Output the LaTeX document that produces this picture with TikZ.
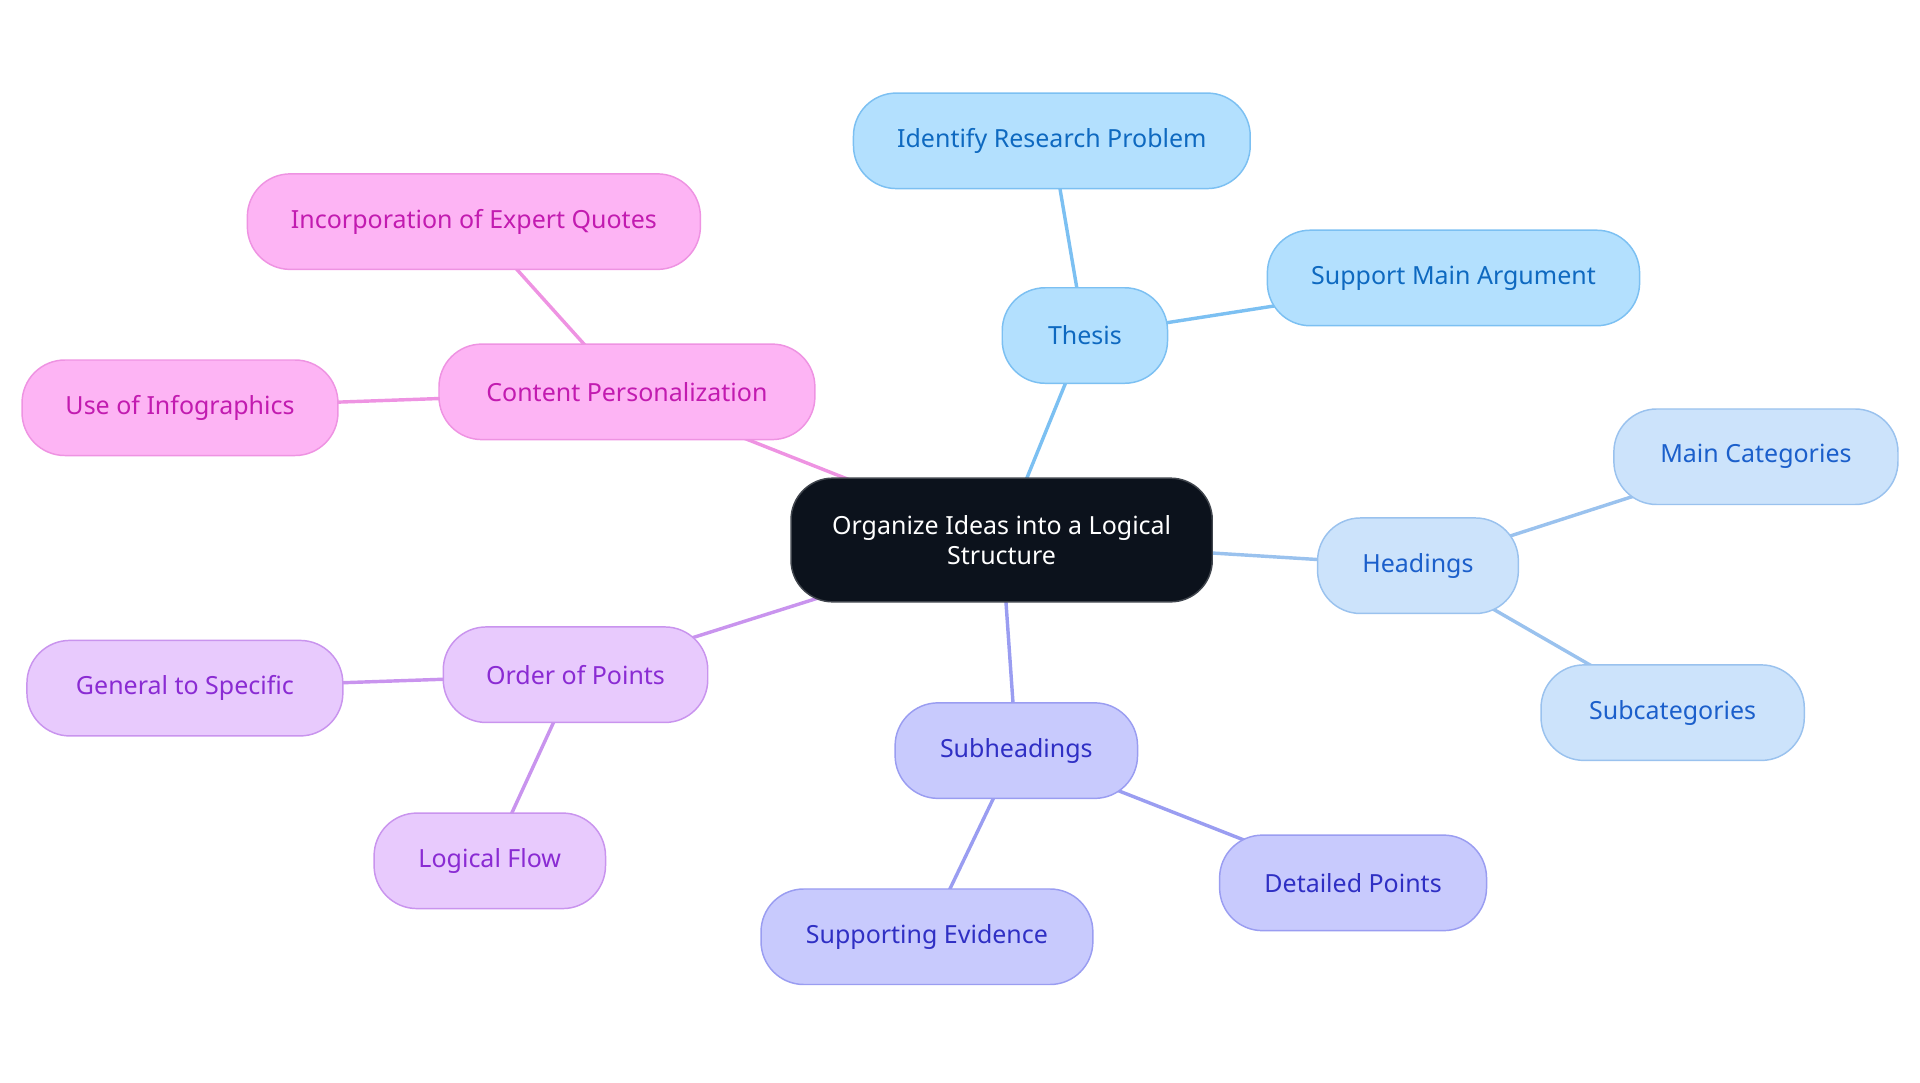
\documentclass[tikz,border=0pt]{standalone}
\usepackage{fontspec}
\setmainfont{Noto Sans}
\usetikzlibrary{backgrounds}
\definecolor{rootfill}{HTML}{0C121C}
\definecolor{rootline}{HTML}{40454D}
\definecolor{thfill}{HTML}{B3E0FE}
\definecolor{thline}{HTML}{7CC0F2}
\definecolor{thtext}{HTML}{0E69C0}
\definecolor{hdfill}{HTML}{CCE3FB}
\definecolor{hdline}{HTML}{9AC2EE}
\definecolor{hdtext}{HTML}{1B5FCB}
\definecolor{shfill}{HTML}{C8CAFD}
\definecolor{shline}{HTML}{9A9DF1}
\definecolor{shtext}{HTML}{2F2FC4}
\definecolor{opfill}{HTML}{E8CAFD}
\definecolor{opline}{HTML}{C994EE}
\definecolor{optext}{HTML}{8A2BD3}
\definecolor{cpfill}{HTML}{FDB4F4}
\definecolor{cpline}{HTML}{EE93E2}
\definecolor{cptext}{HTML}{C21BB0}
\tikzstyle{idea} = [rectangle, rounded corners=17.5pt, minimum height=39pt, inner xsep=0pt, line width=0.6pt, font=\fontsize{10.2}{12.5}\selectfont]
\tikzstyle{root} = [idea, rounded corners=17pt, fill=rootfill, draw=rootline, text=white, minimum width=172pt, minimum height=50.5pt, align=center]
\tikzstyle{thesis} = [idea, fill=thfill, draw=thline, text=thtext]
\tikzstyle{heading} = [idea, fill=hdfill, draw=hdline, text=hdtext]
\tikzstyle{subhead} = [idea, fill=shfill, draw=shline, text=shtext]
\tikzstyle{order} = [idea, fill=opfill, draw=opline, text=optext]
\tikzstyle{content} = [idea, fill=cpfill, draw=cpline, text=cptext]
\tikzstyle{link} = [line width=1.4pt]

\begin{document}
\begin{tikzpicture}[x=0.5pt, y=-0.5pt]
\useasboundingbox (0,0) rectangle (1568,884);

\node (org) [root] at (818,441) {Organize Ideas into a Logical\\Structure};

% thesis branch
\node (thesis) [thesis, minimum width=67.5pt] at (886,274) {Thesis};
\node (research) [thesis, minimum width=162pt] at (859,115) {Identify Research Problem};
\node (argument) [thesis, minimum width=152pt] at (1187,227) {Support Main Argument};

% headings branch
\node (headings) [heading, minimum width=82pt] at (1158,462) {Headings};
\node (maincat) [heading, minimum width=116pt] at (1434,373) {Main Categories};
\node (subcat) [heading, minimum width=107.5pt] at (1366,582) {Subcategories};

% subheadings branch
\node (subheadings) [subhead, minimum width=99pt] at (830,613) {Subheadings};
\node (detailed) [subhead, minimum width=109pt] at (1105,721) {Detailed Points};
\node (evidence) [subhead, minimum width=135.5pt] at (757,765) {Supporting Evidence};

% order branch
\node (points) [order, minimum width=108pt] at (470,551) {Order of Points};
\node (general) [order, minimum width=129pt] at (151,562) {General to Specific};
\node (flow) [order, minimum width=94.5pt] at (400,703) {Logical Flow};

% content branch
\node (personal) [content, minimum width=153.5pt] at (512,320) {Content Personalization};
\node (quotes) [content, minimum width=185pt] at (387,181) {Incorporation of Expert Quotes};
\node (infographics) [content, minimum width=129pt] at (147,333) {Use of Infographics};

\begin{scope}[on background layer]
\draw [link, draw=thline] (org.center) -- (thesis.center);
\draw [link, draw=thline] (thesis.center) -- (research.center);
\draw [link, draw=thline] (thesis.center) -- (argument.center);

\draw [link, draw=hdline] (org.center) -- (headings.center);
\draw [link, draw=hdline] (headings.center) -- (maincat.center);
\draw [link, draw=hdline] (headings.center) -- (subcat.center);

\draw [link, draw=shline] (org.center) -- (subheadings.center);
\draw [link, draw=shline] (subheadings.center) -- (detailed.center);
\draw [link, draw=shline] (subheadings.center) -- (evidence.center);

\draw [link, draw=opline] (org.center) -- (points.center);
\draw [link, draw=opline] (points.center) -- (general.center);
\draw [link, draw=opline] (points.center) -- (flow.center);

\draw [link, draw=cpline] (org.center) -- (personal.center);
\draw [link, draw=cpline] (personal.center) -- (quotes.center);
\draw [link, draw=cpline] (personal.center) -- (infographics.center);
\end{scope}

\end{tikzpicture}
\end{document}
